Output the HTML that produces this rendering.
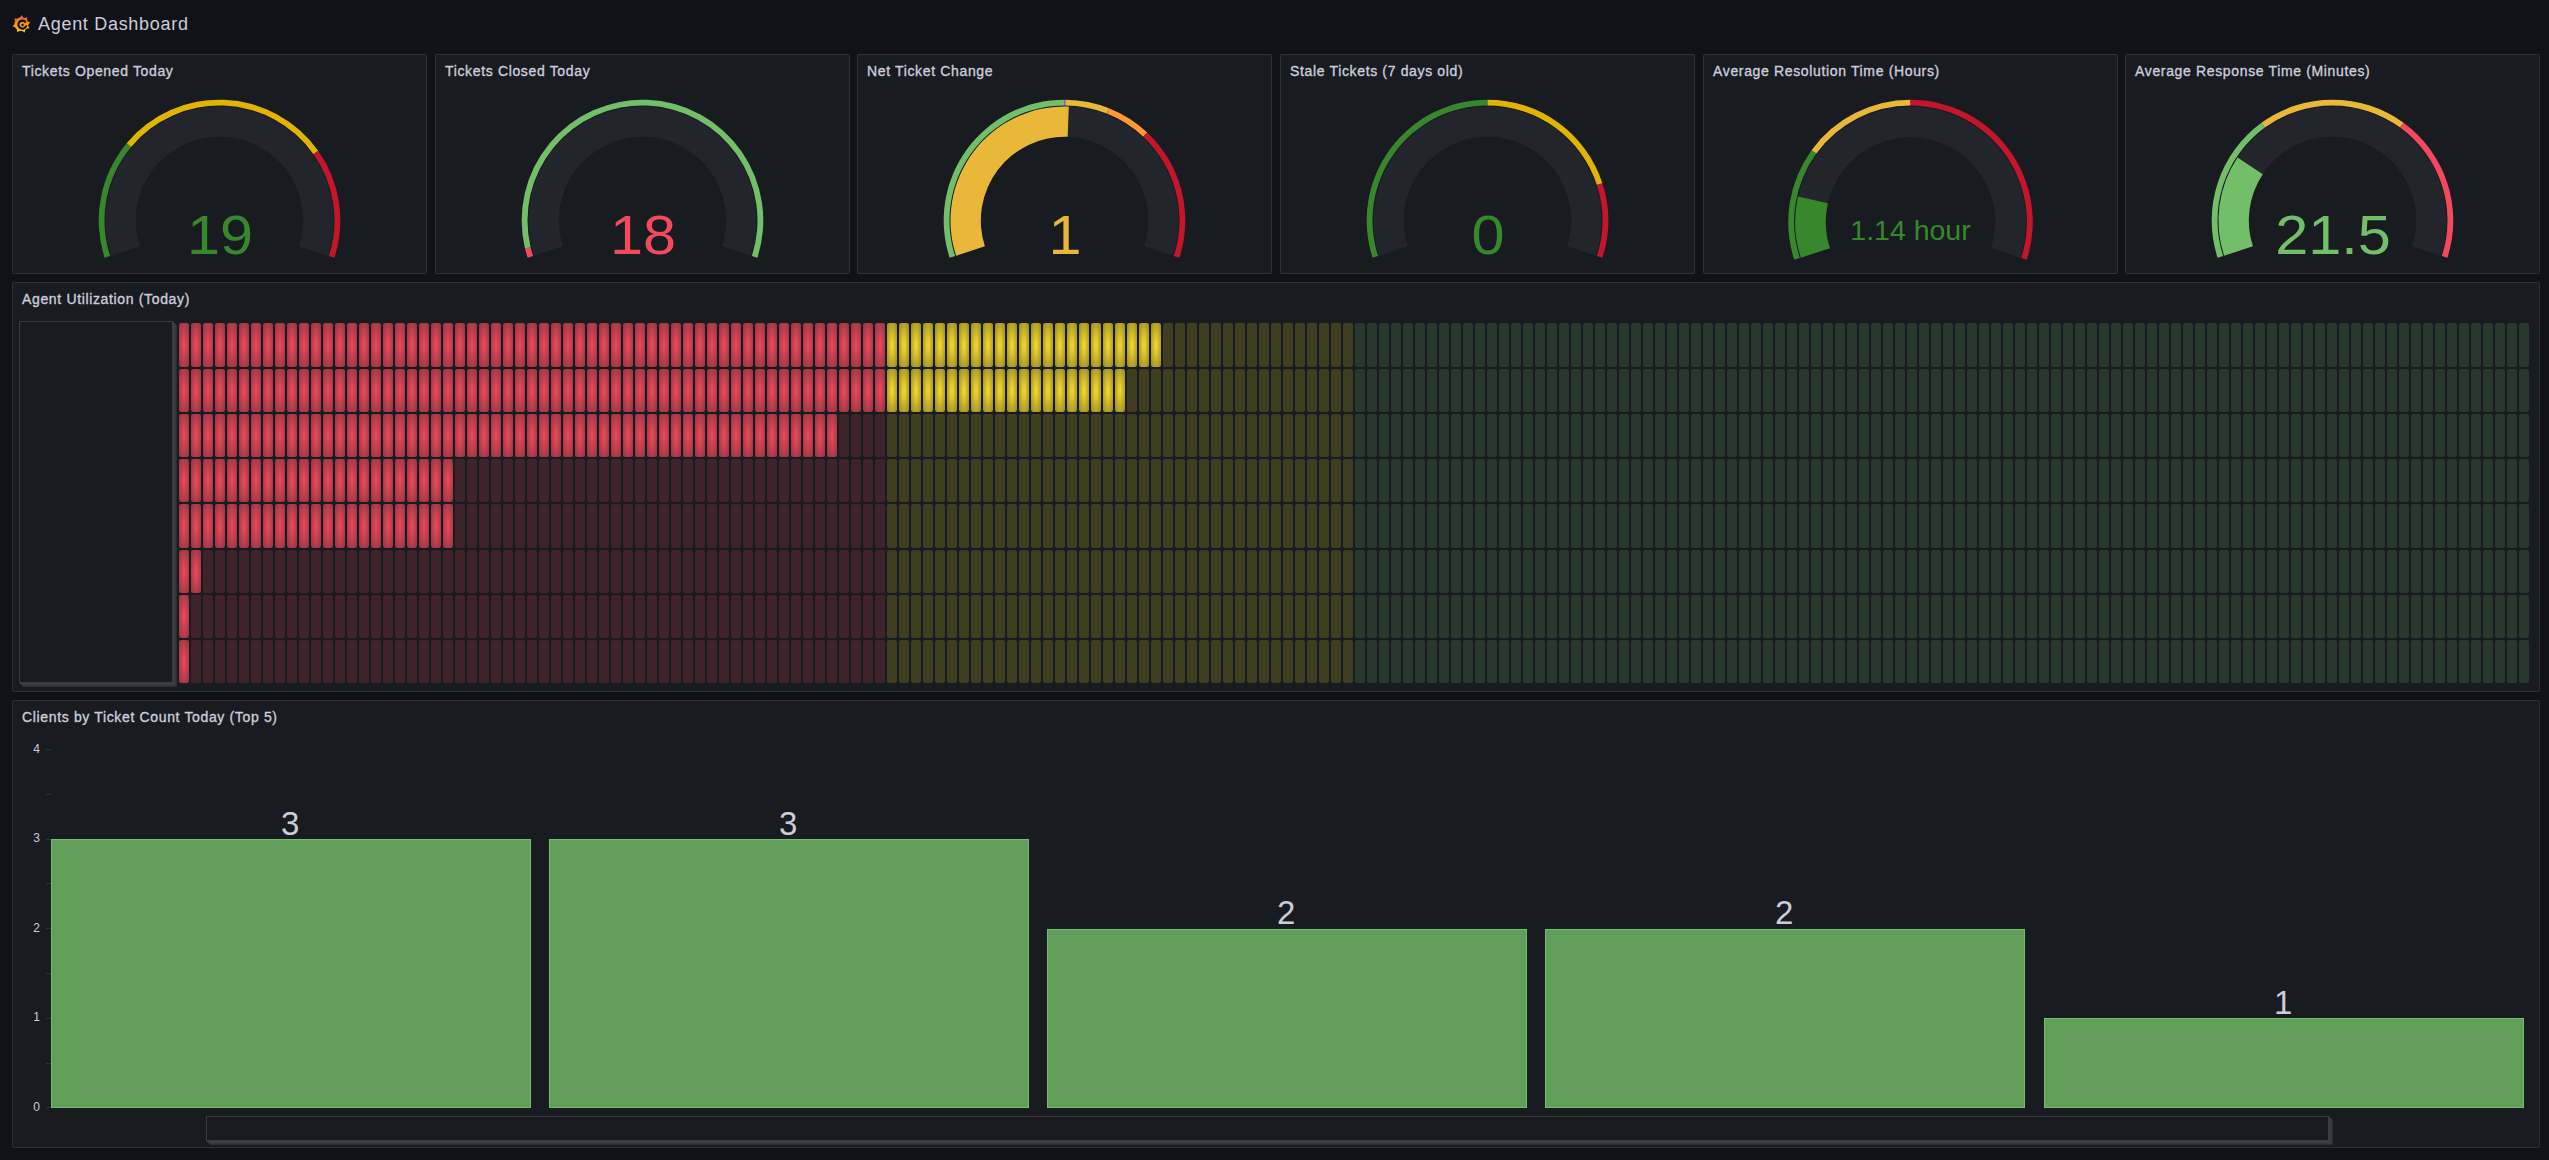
<!DOCTYPE html><html><head><meta charset="utf-8"><style>
*{box-sizing:border-box;margin:0;padding:0}
html,body{width:2549px;height:1160px;overflow:hidden;background:#111217;font-family:"Liberation Sans",sans-serif;color:rgb(204,204,220)}
.p{position:absolute;background:#181b1f;border:1px solid rgba(204,204,220,0.12);border-radius:2px}
.t{position:absolute;left:9px;top:8px;font-size:14px;line-height:16px;white-space:nowrap;color:rgb(204,204,220);letter-spacing:0.65px;-webkit-text-stroke:0.35px rgb(204,204,220)}
.a{position:absolute;white-space:nowrap}
.gv{position:absolute;white-space:nowrap;text-align:center;line-height:1;transform:scaleX(1.08)}
.row{position:absolute;left:179px;display:flex;height:43.25px}
.row i{display:block;width:10px;height:100%;margin-right:2px;border-radius:2px}
i.R{background-image:radial-gradient(rgba(242,73,92,0.95) 10%,rgba(242,73,92,0.55))}
i.r{background-color:rgba(242,73,92,0.18)}
i.Y{background-image:radial-gradient(rgba(250,222,42,0.95) 10%,rgba(250,222,42,0.55))}
i.y{background-color:rgba(250,222,42,0.18)}
i.G{background-image:radial-gradient(rgba(115,191,105,0.95) 10%,rgba(115,191,105,0.55))}
i.g{background-color:rgba(115,191,105,0.18)}
.bar{position:absolute;background:rgba(115,191,105,0.8);border:1px solid #73BF69}
.bl{position:absolute;font-size:33px;line-height:1;text-align:center;width:100px;color:rgb(204,204,220)}
.yl{position:absolute;font-size:12px;line-height:1;text-align:right;width:20px;color:rgb(204,204,220)}
.tk{position:absolute;left:46px;width:5px;height:1px;background:rgba(204,204,220,0.12)}
.bev{position:absolute;border:1px solid #3a3b3e;box-shadow:1px 1px 0 #3e3f42,2px 2px 0 #3b3c3f,3px 3px 0 #36373a,4px 4px 0 #2d2e31}
</style></head><body>
<svg class="a" style="left:12px;top:14px" width="19" height="20" viewBox="0 0 19 20"><defs><linearGradient id="lg" x1="0" y1="0" x2="0" y2="1"><stop offset="0" stop-color="#F05A28"/><stop offset="1" stop-color="#FBCA0A"/></linearGradient></defs><path fill="url(#lg)" d="M16.6 10.2L16.3 10.5L16.3 10.8L16.2 11.1L16.2 11.4L16.2 11.7L16.3 12.1L16.6 12.5L16.8 12.9L17.1 13.4L17.4 13.9L17.1 14.2L16.5 14.3L16.0 14.4L15.5 14.5L15.1 14.5L14.7 14.6L14.5 14.9L14.3 15.1L14.1 15.3L13.8 15.5L13.6 15.7L13.4 15.9L13.2 16.2L13.1 16.7L13.0 17.1L12.9 17.7L12.7 18.2L12.4 18.5L11.9 18.2L11.4 17.8L11.0 17.5L10.6 17.3L10.3 17.1L10.0 17.1L9.7 17.1L9.4 17.1L9.1 17.1L8.8 17.1L8.5 17.0L8.2 17.0L7.9 16.9L7.6 16.9L7.2 17.1L6.8 17.3L6.3 17.6L5.8 17.8L5.3 18.1L5.1 17.7L5.0 17.1L5.0 16.6L4.9 16.1L4.9 15.6L4.7 15.3L4.5 15.1L4.3 14.9L4.1 14.6L3.9 14.4L3.7 14.2L3.6 13.9L3.4 13.6L3.3 13.4L3.0 13.2L2.6 13.0L2.1 12.9L1.6 12.7L1.1 12.4L0.7 12.1L1.1 11.7L1.5 11.2L1.8 10.9L2.2 10.5L2.4 10.2L2.5 9.9L2.5 9.6L2.6 9.3L2.6 9.0L2.7 8.7L2.7 8.4L2.8 8.1L2.9 7.8L3.0 7.6L3.1 7.3L3.1 6.9L2.9 6.5L2.8 6.0L2.6 5.5L2.5 4.9L2.7 4.5L3.2 4.6L3.8 4.6L4.3 4.7L4.8 4.7L5.2 4.7L5.4 4.5L5.7 4.4L5.9 4.2L6.2 4.1L6.5 3.9L6.8 3.8L7.0 3.7L7.3 3.6L7.6 3.5L7.9 3.5L8.2 3.2L8.4 2.9L8.7 2.5L9.0 2.0L9.4 1.6L9.8 1.3L10.1 1.8L10.4 2.3L10.7 2.7L11.0 3.1L11.2 3.5L11.5 3.6L11.8 3.7L12.0 3.8L12.3 3.9L12.6 4.0L13.1 3.9L13.5 3.7L14.0 3.6L14.6 3.4L15.2 3.3L15.2 3.9L15.1 4.5L15.1 5.0L15.0 5.5L15.0 5.9L15.1 6.2L15.2 6.5L15.4 6.7L15.5 7.0L15.7 7.3L16.0 7.5L16.4 7.7L16.9 7.8L17.4 8.1L17.9 8.3L18.1 8.7L17.7 9.1L17.3 9.5L16.9 9.9Z"/><path d="M13.23 7.77A4.0 4.0 0 1 0 14.03 12.29" fill="none" stroke="#111217" stroke-width="2.1" stroke-linecap="round"/><circle cx="10.5" cy="11" r="1.2" fill="#111217"/></svg>
<div class="a" style="left:38px;top:13px;font-size:18px;line-height:22px;letter-spacing:0.7px">Agent Dashboard</div>
<div class="p" style="left:12px;top:54px;width:415px;height:220px"><div class="t">Tickets Opened Today</div></div>
<div class="p" style="left:435px;top:54px;width:415px;height:220px"><div class="t">Tickets Closed Today</div></div>
<div class="p" style="left:857px;top:54px;width:415px;height:220px"><div class="t">Net Ticket Change</div></div>
<div class="p" style="left:1280px;top:54px;width:415px;height:220px"><div class="t">Stale Tickets (7 days old)</div></div>
<div class="p" style="left:1703px;top:54px;width:415px;height:220px"><div class="t">Average Resolution Time (Hours)</div></div>
<div class="p" style="left:2125px;top:54px;width:415px;height:220px"><div class="t">Average Response Time (Minutes)</div></div>
<svg class="a" style="left:0;top:0" width="2549" height="300"><path d="M111.08 255.73A114.0 114.0 0 1 1 327.92 255.73L299.10 246.36A83.7 83.7 0 1 0 139.90 246.36Z" fill="#22252b"/><path d="M104.61 257.83A120.8 120.8 0 0 1 126.69 143.17L131.15 146.88A115.0 115.0 0 0 0 110.13 256.04Z" fill="#37872D"/><path d="M126.69 143.17A120.8 120.8 0 0 1 318.21 150.87L313.47 154.21A115.0 115.0 0 0 0 131.15 146.88Z" fill="#E0B400"/><path d="M318.21 150.87A120.8 120.8 0 0 1 334.39 257.83L328.87 256.04A115.0 115.0 0 0 0 313.47 154.21Z" fill="#C4162A"/><path d="M534.08 255.73A114.0 114.0 0 1 1 750.92 255.73L722.10 246.36A83.7 83.7 0 1 0 562.90 246.36Z" fill="#22252b"/><path d="M527.61 257.83A120.8 120.8 0 0 1 524.99 248.49L530.63 247.15A115.0 115.0 0 0 0 533.13 256.04Z" fill="#F2495C"/><path d="M524.99 248.49A120.8 120.8 0 1 1 757.39 257.83L751.87 256.04A115.0 115.0 0 1 0 530.63 247.15Z" fill="#73BF69"/><path d="M956.08 255.73A114.0 114.0 0 1 1 1172.92 255.73L1144.10 246.36A83.7 83.7 0 1 0 984.90 246.36Z" fill="#22252b"/><path d="M956.08 255.73A114.0 114.0 0 0 1 1068.80 106.58L1067.65 136.86A83.7 83.7 0 0 0 984.90 246.36Z" fill="#EAB839"/><path d="M949.61 257.83A120.8 120.8 0 0 1 1064.50 99.70L1064.50 105.50A115.0 115.0 0 0 0 955.13 256.04Z" fill="#73BF69"/><path d="M1064.50 99.70A120.8 120.8 0 0 1 1066.09 99.71L1066.02 105.51A115.0 115.0 0 0 0 1064.50 105.50Z" fill="#B877D9"/><path d="M1066.09 99.71A120.8 120.8 0 0 1 1108.97 108.18L1106.83 113.58A115.0 115.0 0 0 0 1066.02 105.51Z" fill="#EAB839"/><path d="M1108.97 108.18A120.8 120.8 0 0 1 1147.19 132.44L1143.22 136.67A115.0 115.0 0 0 0 1106.83 113.58Z" fill="#FF9830"/><path d="M1147.19 132.44A120.8 120.8 0 0 1 1179.39 257.83L1173.87 256.04A115.0 115.0 0 0 0 1143.22 136.67Z" fill="#C4162A"/><path d="M1379.08 255.73A114.0 114.0 0 1 1 1595.92 255.73L1567.10 246.36A83.7 83.7 0 1 0 1407.90 246.36Z" fill="#22252b"/><path d="M1372.61 257.83A120.8 120.8 0 0 1 1487.50 99.70L1487.50 105.50A115.0 115.0 0 0 0 1378.13 256.04Z" fill="#37872D"/><path d="M1487.50 99.70A120.8 120.8 0 0 1 1602.38 183.16L1596.87 184.95A115.0 115.0 0 0 0 1487.50 105.50Z" fill="#E0B400"/><path d="M1602.38 183.16A120.8 120.8 0 0 1 1602.39 257.83L1596.87 256.04A115.0 115.0 0 0 0 1596.87 184.95Z" fill="#C4162A"/><path d="M1800.78 257.65A115.368 115.368 0 1 1 2020.22 257.65L1991.06 248.18A84.7044 84.7044 0 1 0 1829.94 248.18Z" fill="#22252b"/><path d="M1800.78 257.65A115.368 115.368 0 0 1 1797.99 196.48L1827.89 203.26A84.7044 84.7044 0 0 0 1829.94 248.18Z" fill="#37872D"/><path d="M1794.23 259.78A122.2496 122.2496 0 0 1 1811.60 150.14L1816.35 153.59A116.38 116.38 0 0 0 1799.82 257.96Z" fill="#37872D"/><path d="M1811.60 150.14A122.2496 122.2496 0 0 1 1910.50 99.75L1910.50 105.62A116.38 116.38 0 0 0 1816.35 153.59Z" fill="#EAB839"/><path d="M1910.50 99.75A122.2496 122.2496 0 0 1 2026.77 259.78L2021.18 257.96A116.38 116.38 0 0 0 1910.50 105.62Z" fill="#C4162A"/><path d="M2224.08 255.73A114.0 114.0 0 1 1 2440.92 255.73L2412.10 246.36A83.7 83.7 0 1 0 2252.90 246.36Z" fill="#22252b"/><path d="M2224.08 255.73A114.0 114.0 0 0 1 2237.55 157.41L2262.79 174.18A83.7 83.7 0 0 0 2252.90 246.36Z" fill="#73BF69"/><path d="M2217.61 257.83A120.8 120.8 0 0 1 2261.48 122.78L2264.89 127.47A115.0 115.0 0 0 0 2223.13 256.04Z" fill="#73BF69"/><path d="M2261.48 122.78A120.8 120.8 0 0 1 2403.52 122.78L2400.11 127.47A115.0 115.0 0 0 0 2264.89 127.47Z" fill="#EAB839"/><path d="M2403.52 122.78A120.8 120.8 0 0 1 2447.39 257.83L2441.87 256.04A115.0 115.0 0 0 0 2400.11 127.47Z" fill="#F2495C"/></svg>
<div class="gv" style="left:69.5px;width:300px;top:208.4px;font-size:55px;color:#37872D;transform:scaleX(1.08)">19</div>
<div class="gv" style="left:492.5px;width:300px;top:208.4px;font-size:55px;color:#F2495C;transform:scaleX(1.08)">18</div>
<div class="gv" style="left:914.5px;width:300px;top:208.4px;font-size:55px;color:#EAB839;transform:scaleX(1.08)">1</div>
<div class="gv" style="left:1337.5px;width:300px;top:208.4px;font-size:55px;color:#37872D;transform:scaleX(1.08)">0</div>
<div class="gv" style="left:1760.5px;width:300px;top:215.5px;font-size:28.5px;color:#37872D;transform:scaleX(1.0)">1.14 hour</div>
<div class="gv" style="left:2182.5px;width:300px;top:208.4px;font-size:55px;color:#73BF69;transform:scaleX(1.08)">21.5</div>
<div class="p" style="left:12px;top:282px;width:2528px;height:410px"><div class="t">Agent Utilization (Today)</div></div>
<div class="bev" style="left:19px;top:321px;width:154px;height:362px"></div>
<div class="row" style="top:323px;height:44px"><i class=R></i><i class=R></i><i class=R></i><i class=R></i><i class=R></i><i class=R></i><i class=R></i><i class=R></i><i class=R></i><i class=R></i><i class=R></i><i class=R></i><i class=R></i><i class=R></i><i class=R></i><i class=R></i><i class=R></i><i class=R></i><i class=R></i><i class=R></i><i class=R></i><i class=R></i><i class=R></i><i class=R></i><i class=R></i><i class=R></i><i class=R></i><i class=R></i><i class=R></i><i class=R></i><i class=R></i><i class=R></i><i class=R></i><i class=R></i><i class=R></i><i class=R></i><i class=R></i><i class=R></i><i class=R></i><i class=R></i><i class=R></i><i class=R></i><i class=R></i><i class=R></i><i class=R></i><i class=R></i><i class=R></i><i class=R></i><i class=R></i><i class=R></i><i class=R></i><i class=R></i><i class=R></i><i class=R></i><i class=R></i><i class=R></i><i class=R></i><i class=R></i><i class=R></i><i class=Y></i><i class=Y></i><i class=Y></i><i class=Y></i><i class=Y></i><i class=Y></i><i class=Y></i><i class=Y></i><i class=Y></i><i class=Y></i><i class=Y></i><i class=Y></i><i class=Y></i><i class=Y></i><i class=Y></i><i class=Y></i><i class=Y></i><i class=Y></i><i class=Y></i><i class=Y></i><i class=Y></i><i class=Y></i><i class=Y></i><i class=y></i><i class=y></i><i class=y></i><i class=y></i><i class=y></i><i class=y></i><i class=y></i><i class=y></i><i class=y></i><i class=y></i><i class=y></i><i class=y></i><i class=y></i><i class=y></i><i class=y></i><i class=y></i><i class=g></i><i class=g></i><i class=g></i><i class=g></i><i class=g></i><i class=g></i><i class=g></i><i class=g></i><i class=g></i><i class=g></i><i class=g></i><i class=g></i><i class=g></i><i class=g></i><i class=g></i><i class=g></i><i class=g></i><i class=g></i><i class=g></i><i class=g></i><i class=g></i><i class=g></i><i class=g></i><i class=g></i><i class=g></i><i class=g></i><i class=g></i><i class=g></i><i class=g></i><i class=g></i><i class=g></i><i class=g></i><i class=g></i><i class=g></i><i class=g></i><i class=g></i><i class=g></i><i class=g></i><i class=g></i><i class=g></i><i class=g></i><i class=g></i><i class=g></i><i class=g></i><i class=g></i><i class=g></i><i class=g></i><i class=g></i><i class=g></i><i class=g></i><i class=g></i><i class=g></i><i class=g></i><i class=g></i><i class=g></i><i class=g></i><i class=g></i><i class=g></i><i class=g></i><i class=g></i><i class=g></i><i class=g></i><i class=g></i><i class=g></i><i class=g></i><i class=g></i><i class=g></i><i class=g></i><i class=g></i><i class=g></i><i class=g></i><i class=g></i><i class=g></i><i class=g></i><i class=g></i><i class=g></i><i class=g></i><i class=g></i><i class=g></i><i class=g></i><i class=g></i><i class=g></i><i class=g></i><i class=g></i><i class=g></i><i class=g></i><i class=g></i><i class=g></i><i class=g></i><i class=g></i><i class=g></i><i class=g></i><i class=g></i><i class=g></i><i class=g></i><i class=g></i><i class=g></i><i class=g></i></div>
<div class="row" style="top:369px;height:43px"><i class=R></i><i class=R></i><i class=R></i><i class=R></i><i class=R></i><i class=R></i><i class=R></i><i class=R></i><i class=R></i><i class=R></i><i class=R></i><i class=R></i><i class=R></i><i class=R></i><i class=R></i><i class=R></i><i class=R></i><i class=R></i><i class=R></i><i class=R></i><i class=R></i><i class=R></i><i class=R></i><i class=R></i><i class=R></i><i class=R></i><i class=R></i><i class=R></i><i class=R></i><i class=R></i><i class=R></i><i class=R></i><i class=R></i><i class=R></i><i class=R></i><i class=R></i><i class=R></i><i class=R></i><i class=R></i><i class=R></i><i class=R></i><i class=R></i><i class=R></i><i class=R></i><i class=R></i><i class=R></i><i class=R></i><i class=R></i><i class=R></i><i class=R></i><i class=R></i><i class=R></i><i class=R></i><i class=R></i><i class=R></i><i class=R></i><i class=R></i><i class=R></i><i class=R></i><i class=Y></i><i class=Y></i><i class=Y></i><i class=Y></i><i class=Y></i><i class=Y></i><i class=Y></i><i class=Y></i><i class=Y></i><i class=Y></i><i class=Y></i><i class=Y></i><i class=Y></i><i class=Y></i><i class=Y></i><i class=Y></i><i class=Y></i><i class=Y></i><i class=Y></i><i class=Y></i><i class=y></i><i class=y></i><i class=y></i><i class=y></i><i class=y></i><i class=y></i><i class=y></i><i class=y></i><i class=y></i><i class=y></i><i class=y></i><i class=y></i><i class=y></i><i class=y></i><i class=y></i><i class=y></i><i class=y></i><i class=y></i><i class=y></i><i class=g></i><i class=g></i><i class=g></i><i class=g></i><i class=g></i><i class=g></i><i class=g></i><i class=g></i><i class=g></i><i class=g></i><i class=g></i><i class=g></i><i class=g></i><i class=g></i><i class=g></i><i class=g></i><i class=g></i><i class=g></i><i class=g></i><i class=g></i><i class=g></i><i class=g></i><i class=g></i><i class=g></i><i class=g></i><i class=g></i><i class=g></i><i class=g></i><i class=g></i><i class=g></i><i class=g></i><i class=g></i><i class=g></i><i class=g></i><i class=g></i><i class=g></i><i class=g></i><i class=g></i><i class=g></i><i class=g></i><i class=g></i><i class=g></i><i class=g></i><i class=g></i><i class=g></i><i class=g></i><i class=g></i><i class=g></i><i class=g></i><i class=g></i><i class=g></i><i class=g></i><i class=g></i><i class=g></i><i class=g></i><i class=g></i><i class=g></i><i class=g></i><i class=g></i><i class=g></i><i class=g></i><i class=g></i><i class=g></i><i class=g></i><i class=g></i><i class=g></i><i class=g></i><i class=g></i><i class=g></i><i class=g></i><i class=g></i><i class=g></i><i class=g></i><i class=g></i><i class=g></i><i class=g></i><i class=g></i><i class=g></i><i class=g></i><i class=g></i><i class=g></i><i class=g></i><i class=g></i><i class=g></i><i class=g></i><i class=g></i><i class=g></i><i class=g></i><i class=g></i><i class=g></i><i class=g></i><i class=g></i><i class=g></i><i class=g></i><i class=g></i><i class=g></i><i class=g></i><i class=g></i></div>
<div class="row" style="top:414px;height:43px"><i class=R></i><i class=R></i><i class=R></i><i class=R></i><i class=R></i><i class=R></i><i class=R></i><i class=R></i><i class=R></i><i class=R></i><i class=R></i><i class=R></i><i class=R></i><i class=R></i><i class=R></i><i class=R></i><i class=R></i><i class=R></i><i class=R></i><i class=R></i><i class=R></i><i class=R></i><i class=R></i><i class=R></i><i class=R></i><i class=R></i><i class=R></i><i class=R></i><i class=R></i><i class=R></i><i class=R></i><i class=R></i><i class=R></i><i class=R></i><i class=R></i><i class=R></i><i class=R></i><i class=R></i><i class=R></i><i class=R></i><i class=R></i><i class=R></i><i class=R></i><i class=R></i><i class=R></i><i class=R></i><i class=R></i><i class=R></i><i class=R></i><i class=R></i><i class=R></i><i class=R></i><i class=R></i><i class=R></i><i class=R></i><i class=r></i><i class=r></i><i class=r></i><i class=r></i><i class=y></i><i class=y></i><i class=y></i><i class=y></i><i class=y></i><i class=y></i><i class=y></i><i class=y></i><i class=y></i><i class=y></i><i class=y></i><i class=y></i><i class=y></i><i class=y></i><i class=y></i><i class=y></i><i class=y></i><i class=y></i><i class=y></i><i class=y></i><i class=y></i><i class=y></i><i class=y></i><i class=y></i><i class=y></i><i class=y></i><i class=y></i><i class=y></i><i class=y></i><i class=y></i><i class=y></i><i class=y></i><i class=y></i><i class=y></i><i class=y></i><i class=y></i><i class=y></i><i class=y></i><i class=y></i><i class=g></i><i class=g></i><i class=g></i><i class=g></i><i class=g></i><i class=g></i><i class=g></i><i class=g></i><i class=g></i><i class=g></i><i class=g></i><i class=g></i><i class=g></i><i class=g></i><i class=g></i><i class=g></i><i class=g></i><i class=g></i><i class=g></i><i class=g></i><i class=g></i><i class=g></i><i class=g></i><i class=g></i><i class=g></i><i class=g></i><i class=g></i><i class=g></i><i class=g></i><i class=g></i><i class=g></i><i class=g></i><i class=g></i><i class=g></i><i class=g></i><i class=g></i><i class=g></i><i class=g></i><i class=g></i><i class=g></i><i class=g></i><i class=g></i><i class=g></i><i class=g></i><i class=g></i><i class=g></i><i class=g></i><i class=g></i><i class=g></i><i class=g></i><i class=g></i><i class=g></i><i class=g></i><i class=g></i><i class=g></i><i class=g></i><i class=g></i><i class=g></i><i class=g></i><i class=g></i><i class=g></i><i class=g></i><i class=g></i><i class=g></i><i class=g></i><i class=g></i><i class=g></i><i class=g></i><i class=g></i><i class=g></i><i class=g></i><i class=g></i><i class=g></i><i class=g></i><i class=g></i><i class=g></i><i class=g></i><i class=g></i><i class=g></i><i class=g></i><i class=g></i><i class=g></i><i class=g></i><i class=g></i><i class=g></i><i class=g></i><i class=g></i><i class=g></i><i class=g></i><i class=g></i><i class=g></i><i class=g></i><i class=g></i><i class=g></i><i class=g></i><i class=g></i><i class=g></i><i class=g></i></div>
<div class="row" style="top:459px;height:43px"><i class=R></i><i class=R></i><i class=R></i><i class=R></i><i class=R></i><i class=R></i><i class=R></i><i class=R></i><i class=R></i><i class=R></i><i class=R></i><i class=R></i><i class=R></i><i class=R></i><i class=R></i><i class=R></i><i class=R></i><i class=R></i><i class=R></i><i class=R></i><i class=R></i><i class=R></i><i class=R></i><i class=r></i><i class=r></i><i class=r></i><i class=r></i><i class=r></i><i class=r></i><i class=r></i><i class=r></i><i class=r></i><i class=r></i><i class=r></i><i class=r></i><i class=r></i><i class=r></i><i class=r></i><i class=r></i><i class=r></i><i class=r></i><i class=r></i><i class=r></i><i class=r></i><i class=r></i><i class=r></i><i class=r></i><i class=r></i><i class=r></i><i class=r></i><i class=r></i><i class=r></i><i class=r></i><i class=r></i><i class=r></i><i class=r></i><i class=r></i><i class=r></i><i class=r></i><i class=y></i><i class=y></i><i class=y></i><i class=y></i><i class=y></i><i class=y></i><i class=y></i><i class=y></i><i class=y></i><i class=y></i><i class=y></i><i class=y></i><i class=y></i><i class=y></i><i class=y></i><i class=y></i><i class=y></i><i class=y></i><i class=y></i><i class=y></i><i class=y></i><i class=y></i><i class=y></i><i class=y></i><i class=y></i><i class=y></i><i class=y></i><i class=y></i><i class=y></i><i class=y></i><i class=y></i><i class=y></i><i class=y></i><i class=y></i><i class=y></i><i class=y></i><i class=y></i><i class=y></i><i class=y></i><i class=g></i><i class=g></i><i class=g></i><i class=g></i><i class=g></i><i class=g></i><i class=g></i><i class=g></i><i class=g></i><i class=g></i><i class=g></i><i class=g></i><i class=g></i><i class=g></i><i class=g></i><i class=g></i><i class=g></i><i class=g></i><i class=g></i><i class=g></i><i class=g></i><i class=g></i><i class=g></i><i class=g></i><i class=g></i><i class=g></i><i class=g></i><i class=g></i><i class=g></i><i class=g></i><i class=g></i><i class=g></i><i class=g></i><i class=g></i><i class=g></i><i class=g></i><i class=g></i><i class=g></i><i class=g></i><i class=g></i><i class=g></i><i class=g></i><i class=g></i><i class=g></i><i class=g></i><i class=g></i><i class=g></i><i class=g></i><i class=g></i><i class=g></i><i class=g></i><i class=g></i><i class=g></i><i class=g></i><i class=g></i><i class=g></i><i class=g></i><i class=g></i><i class=g></i><i class=g></i><i class=g></i><i class=g></i><i class=g></i><i class=g></i><i class=g></i><i class=g></i><i class=g></i><i class=g></i><i class=g></i><i class=g></i><i class=g></i><i class=g></i><i class=g></i><i class=g></i><i class=g></i><i class=g></i><i class=g></i><i class=g></i><i class=g></i><i class=g></i><i class=g></i><i class=g></i><i class=g></i><i class=g></i><i class=g></i><i class=g></i><i class=g></i><i class=g></i><i class=g></i><i class=g></i><i class=g></i><i class=g></i><i class=g></i><i class=g></i><i class=g></i><i class=g></i><i class=g></i><i class=g></i></div>
<div class="row" style="top:504px;height:44px"><i class=R></i><i class=R></i><i class=R></i><i class=R></i><i class=R></i><i class=R></i><i class=R></i><i class=R></i><i class=R></i><i class=R></i><i class=R></i><i class=R></i><i class=R></i><i class=R></i><i class=R></i><i class=R></i><i class=R></i><i class=R></i><i class=R></i><i class=R></i><i class=R></i><i class=R></i><i class=R></i><i class=r></i><i class=r></i><i class=r></i><i class=r></i><i class=r></i><i class=r></i><i class=r></i><i class=r></i><i class=r></i><i class=r></i><i class=r></i><i class=r></i><i class=r></i><i class=r></i><i class=r></i><i class=r></i><i class=r></i><i class=r></i><i class=r></i><i class=r></i><i class=r></i><i class=r></i><i class=r></i><i class=r></i><i class=r></i><i class=r></i><i class=r></i><i class=r></i><i class=r></i><i class=r></i><i class=r></i><i class=r></i><i class=r></i><i class=r></i><i class=r></i><i class=r></i><i class=y></i><i class=y></i><i class=y></i><i class=y></i><i class=y></i><i class=y></i><i class=y></i><i class=y></i><i class=y></i><i class=y></i><i class=y></i><i class=y></i><i class=y></i><i class=y></i><i class=y></i><i class=y></i><i class=y></i><i class=y></i><i class=y></i><i class=y></i><i class=y></i><i class=y></i><i class=y></i><i class=y></i><i class=y></i><i class=y></i><i class=y></i><i class=y></i><i class=y></i><i class=y></i><i class=y></i><i class=y></i><i class=y></i><i class=y></i><i class=y></i><i class=y></i><i class=y></i><i class=y></i><i class=y></i><i class=g></i><i class=g></i><i class=g></i><i class=g></i><i class=g></i><i class=g></i><i class=g></i><i class=g></i><i class=g></i><i class=g></i><i class=g></i><i class=g></i><i class=g></i><i class=g></i><i class=g></i><i class=g></i><i class=g></i><i class=g></i><i class=g></i><i class=g></i><i class=g></i><i class=g></i><i class=g></i><i class=g></i><i class=g></i><i class=g></i><i class=g></i><i class=g></i><i class=g></i><i class=g></i><i class=g></i><i class=g></i><i class=g></i><i class=g></i><i class=g></i><i class=g></i><i class=g></i><i class=g></i><i class=g></i><i class=g></i><i class=g></i><i class=g></i><i class=g></i><i class=g></i><i class=g></i><i class=g></i><i class=g></i><i class=g></i><i class=g></i><i class=g></i><i class=g></i><i class=g></i><i class=g></i><i class=g></i><i class=g></i><i class=g></i><i class=g></i><i class=g></i><i class=g></i><i class=g></i><i class=g></i><i class=g></i><i class=g></i><i class=g></i><i class=g></i><i class=g></i><i class=g></i><i class=g></i><i class=g></i><i class=g></i><i class=g></i><i class=g></i><i class=g></i><i class=g></i><i class=g></i><i class=g></i><i class=g></i><i class=g></i><i class=g></i><i class=g></i><i class=g></i><i class=g></i><i class=g></i><i class=g></i><i class=g></i><i class=g></i><i class=g></i><i class=g></i><i class=g></i><i class=g></i><i class=g></i><i class=g></i><i class=g></i><i class=g></i><i class=g></i><i class=g></i><i class=g></i><i class=g></i></div>
<div class="row" style="top:550px;height:43px"><i class=R></i><i class=R></i><i class=r></i><i class=r></i><i class=r></i><i class=r></i><i class=r></i><i class=r></i><i class=r></i><i class=r></i><i class=r></i><i class=r></i><i class=r></i><i class=r></i><i class=r></i><i class=r></i><i class=r></i><i class=r></i><i class=r></i><i class=r></i><i class=r></i><i class=r></i><i class=r></i><i class=r></i><i class=r></i><i class=r></i><i class=r></i><i class=r></i><i class=r></i><i class=r></i><i class=r></i><i class=r></i><i class=r></i><i class=r></i><i class=r></i><i class=r></i><i class=r></i><i class=r></i><i class=r></i><i class=r></i><i class=r></i><i class=r></i><i class=r></i><i class=r></i><i class=r></i><i class=r></i><i class=r></i><i class=r></i><i class=r></i><i class=r></i><i class=r></i><i class=r></i><i class=r></i><i class=r></i><i class=r></i><i class=r></i><i class=r></i><i class=r></i><i class=r></i><i class=y></i><i class=y></i><i class=y></i><i class=y></i><i class=y></i><i class=y></i><i class=y></i><i class=y></i><i class=y></i><i class=y></i><i class=y></i><i class=y></i><i class=y></i><i class=y></i><i class=y></i><i class=y></i><i class=y></i><i class=y></i><i class=y></i><i class=y></i><i class=y></i><i class=y></i><i class=y></i><i class=y></i><i class=y></i><i class=y></i><i class=y></i><i class=y></i><i class=y></i><i class=y></i><i class=y></i><i class=y></i><i class=y></i><i class=y></i><i class=y></i><i class=y></i><i class=y></i><i class=y></i><i class=y></i><i class=g></i><i class=g></i><i class=g></i><i class=g></i><i class=g></i><i class=g></i><i class=g></i><i class=g></i><i class=g></i><i class=g></i><i class=g></i><i class=g></i><i class=g></i><i class=g></i><i class=g></i><i class=g></i><i class=g></i><i class=g></i><i class=g></i><i class=g></i><i class=g></i><i class=g></i><i class=g></i><i class=g></i><i class=g></i><i class=g></i><i class=g></i><i class=g></i><i class=g></i><i class=g></i><i class=g></i><i class=g></i><i class=g></i><i class=g></i><i class=g></i><i class=g></i><i class=g></i><i class=g></i><i class=g></i><i class=g></i><i class=g></i><i class=g></i><i class=g></i><i class=g></i><i class=g></i><i class=g></i><i class=g></i><i class=g></i><i class=g></i><i class=g></i><i class=g></i><i class=g></i><i class=g></i><i class=g></i><i class=g></i><i class=g></i><i class=g></i><i class=g></i><i class=g></i><i class=g></i><i class=g></i><i class=g></i><i class=g></i><i class=g></i><i class=g></i><i class=g></i><i class=g></i><i class=g></i><i class=g></i><i class=g></i><i class=g></i><i class=g></i><i class=g></i><i class=g></i><i class=g></i><i class=g></i><i class=g></i><i class=g></i><i class=g></i><i class=g></i><i class=g></i><i class=g></i><i class=g></i><i class=g></i><i class=g></i><i class=g></i><i class=g></i><i class=g></i><i class=g></i><i class=g></i><i class=g></i><i class=g></i><i class=g></i><i class=g></i><i class=g></i><i class=g></i><i class=g></i><i class=g></i></div>
<div class="row" style="top:595px;height:43px"><i class=R></i><i class=r></i><i class=r></i><i class=r></i><i class=r></i><i class=r></i><i class=r></i><i class=r></i><i class=r></i><i class=r></i><i class=r></i><i class=r></i><i class=r></i><i class=r></i><i class=r></i><i class=r></i><i class=r></i><i class=r></i><i class=r></i><i class=r></i><i class=r></i><i class=r></i><i class=r></i><i class=r></i><i class=r></i><i class=r></i><i class=r></i><i class=r></i><i class=r></i><i class=r></i><i class=r></i><i class=r></i><i class=r></i><i class=r></i><i class=r></i><i class=r></i><i class=r></i><i class=r></i><i class=r></i><i class=r></i><i class=r></i><i class=r></i><i class=r></i><i class=r></i><i class=r></i><i class=r></i><i class=r></i><i class=r></i><i class=r></i><i class=r></i><i class=r></i><i class=r></i><i class=r></i><i class=r></i><i class=r></i><i class=r></i><i class=r></i><i class=r></i><i class=r></i><i class=y></i><i class=y></i><i class=y></i><i class=y></i><i class=y></i><i class=y></i><i class=y></i><i class=y></i><i class=y></i><i class=y></i><i class=y></i><i class=y></i><i class=y></i><i class=y></i><i class=y></i><i class=y></i><i class=y></i><i class=y></i><i class=y></i><i class=y></i><i class=y></i><i class=y></i><i class=y></i><i class=y></i><i class=y></i><i class=y></i><i class=y></i><i class=y></i><i class=y></i><i class=y></i><i class=y></i><i class=y></i><i class=y></i><i class=y></i><i class=y></i><i class=y></i><i class=y></i><i class=y></i><i class=y></i><i class=g></i><i class=g></i><i class=g></i><i class=g></i><i class=g></i><i class=g></i><i class=g></i><i class=g></i><i class=g></i><i class=g></i><i class=g></i><i class=g></i><i class=g></i><i class=g></i><i class=g></i><i class=g></i><i class=g></i><i class=g></i><i class=g></i><i class=g></i><i class=g></i><i class=g></i><i class=g></i><i class=g></i><i class=g></i><i class=g></i><i class=g></i><i class=g></i><i class=g></i><i class=g></i><i class=g></i><i class=g></i><i class=g></i><i class=g></i><i class=g></i><i class=g></i><i class=g></i><i class=g></i><i class=g></i><i class=g></i><i class=g></i><i class=g></i><i class=g></i><i class=g></i><i class=g></i><i class=g></i><i class=g></i><i class=g></i><i class=g></i><i class=g></i><i class=g></i><i class=g></i><i class=g></i><i class=g></i><i class=g></i><i class=g></i><i class=g></i><i class=g></i><i class=g></i><i class=g></i><i class=g></i><i class=g></i><i class=g></i><i class=g></i><i class=g></i><i class=g></i><i class=g></i><i class=g></i><i class=g></i><i class=g></i><i class=g></i><i class=g></i><i class=g></i><i class=g></i><i class=g></i><i class=g></i><i class=g></i><i class=g></i><i class=g></i><i class=g></i><i class=g></i><i class=g></i><i class=g></i><i class=g></i><i class=g></i><i class=g></i><i class=g></i><i class=g></i><i class=g></i><i class=g></i><i class=g></i><i class=g></i><i class=g></i><i class=g></i><i class=g></i><i class=g></i><i class=g></i><i class=g></i></div>
<div class="row" style="top:640px;height:43px"><i class=R></i><i class=r></i><i class=r></i><i class=r></i><i class=r></i><i class=r></i><i class=r></i><i class=r></i><i class=r></i><i class=r></i><i class=r></i><i class=r></i><i class=r></i><i class=r></i><i class=r></i><i class=r></i><i class=r></i><i class=r></i><i class=r></i><i class=r></i><i class=r></i><i class=r></i><i class=r></i><i class=r></i><i class=r></i><i class=r></i><i class=r></i><i class=r></i><i class=r></i><i class=r></i><i class=r></i><i class=r></i><i class=r></i><i class=r></i><i class=r></i><i class=r></i><i class=r></i><i class=r></i><i class=r></i><i class=r></i><i class=r></i><i class=r></i><i class=r></i><i class=r></i><i class=r></i><i class=r></i><i class=r></i><i class=r></i><i class=r></i><i class=r></i><i class=r></i><i class=r></i><i class=r></i><i class=r></i><i class=r></i><i class=r></i><i class=r></i><i class=r></i><i class=r></i><i class=y></i><i class=y></i><i class=y></i><i class=y></i><i class=y></i><i class=y></i><i class=y></i><i class=y></i><i class=y></i><i class=y></i><i class=y></i><i class=y></i><i class=y></i><i class=y></i><i class=y></i><i class=y></i><i class=y></i><i class=y></i><i class=y></i><i class=y></i><i class=y></i><i class=y></i><i class=y></i><i class=y></i><i class=y></i><i class=y></i><i class=y></i><i class=y></i><i class=y></i><i class=y></i><i class=y></i><i class=y></i><i class=y></i><i class=y></i><i class=y></i><i class=y></i><i class=y></i><i class=y></i><i class=y></i><i class=g></i><i class=g></i><i class=g></i><i class=g></i><i class=g></i><i class=g></i><i class=g></i><i class=g></i><i class=g></i><i class=g></i><i class=g></i><i class=g></i><i class=g></i><i class=g></i><i class=g></i><i class=g></i><i class=g></i><i class=g></i><i class=g></i><i class=g></i><i class=g></i><i class=g></i><i class=g></i><i class=g></i><i class=g></i><i class=g></i><i class=g></i><i class=g></i><i class=g></i><i class=g></i><i class=g></i><i class=g></i><i class=g></i><i class=g></i><i class=g></i><i class=g></i><i class=g></i><i class=g></i><i class=g></i><i class=g></i><i class=g></i><i class=g></i><i class=g></i><i class=g></i><i class=g></i><i class=g></i><i class=g></i><i class=g></i><i class=g></i><i class=g></i><i class=g></i><i class=g></i><i class=g></i><i class=g></i><i class=g></i><i class=g></i><i class=g></i><i class=g></i><i class=g></i><i class=g></i><i class=g></i><i class=g></i><i class=g></i><i class=g></i><i class=g></i><i class=g></i><i class=g></i><i class=g></i><i class=g></i><i class=g></i><i class=g></i><i class=g></i><i class=g></i><i class=g></i><i class=g></i><i class=g></i><i class=g></i><i class=g></i><i class=g></i><i class=g></i><i class=g></i><i class=g></i><i class=g></i><i class=g></i><i class=g></i><i class=g></i><i class=g></i><i class=g></i><i class=g></i><i class=g></i><i class=g></i><i class=g></i><i class=g></i><i class=g></i><i class=g></i><i class=g></i><i class=g></i><i class=g></i></div>
<div class="p" style="left:12px;top:700px;width:2528px;height:448px"><div class="t">Clients by Ticket Count Today (Top 5)</div></div>
<div class="yl" style="left:20px;top:1101.0px">0</div>
<div class="yl" style="left:20px;top:1011.4px">1</div>
<div class="yl" style="left:20px;top:921.8px">2</div>
<div class="yl" style="left:20px;top:832.1px">3</div>
<div class="yl" style="left:20px;top:742.5px">4</div>
<div class="tk" style="top:1107.4px"></div>
<div class="tk" style="top:1062.6px"></div>
<div class="tk" style="top:1017.8px"></div>
<div class="tk" style="top:973.0px"></div>
<div class="tk" style="top:928.1px"></div>
<div class="tk" style="top:883.3px"></div>
<div class="tk" style="top:838.5px"></div>
<div class="tk" style="top:793.7px"></div>
<div class="tk" style="top:748.9px"></div>
<div class="bar" style="left:51.0px;top:839.1px;width:480px;height:268.9px"></div>
<div class="bl" style="left:240.3px;top:806.6px">3</div>
<div class="bar" style="left:549.0px;top:839.1px;width:480px;height:268.9px"></div>
<div class="bl" style="left:738.3px;top:806.6px">3</div>
<div class="bar" style="left:1047.0px;top:928.8px;width:480px;height:179.2px"></div>
<div class="bl" style="left:1236.3px;top:896.2px">2</div>
<div class="bar" style="left:1545.0px;top:928.8px;width:480px;height:179.2px"></div>
<div class="bl" style="left:1734.3px;top:896.2px">2</div>
<div class="bar" style="left:2044.0px;top:1018.4px;width:480px;height:89.6px"></div>
<div class="bl" style="left:2233.3px;top:985.9px">1</div>
<div class="bev" style="left:206px;top:1116px;width:2123px;height:25px"></div>
</body></html>
